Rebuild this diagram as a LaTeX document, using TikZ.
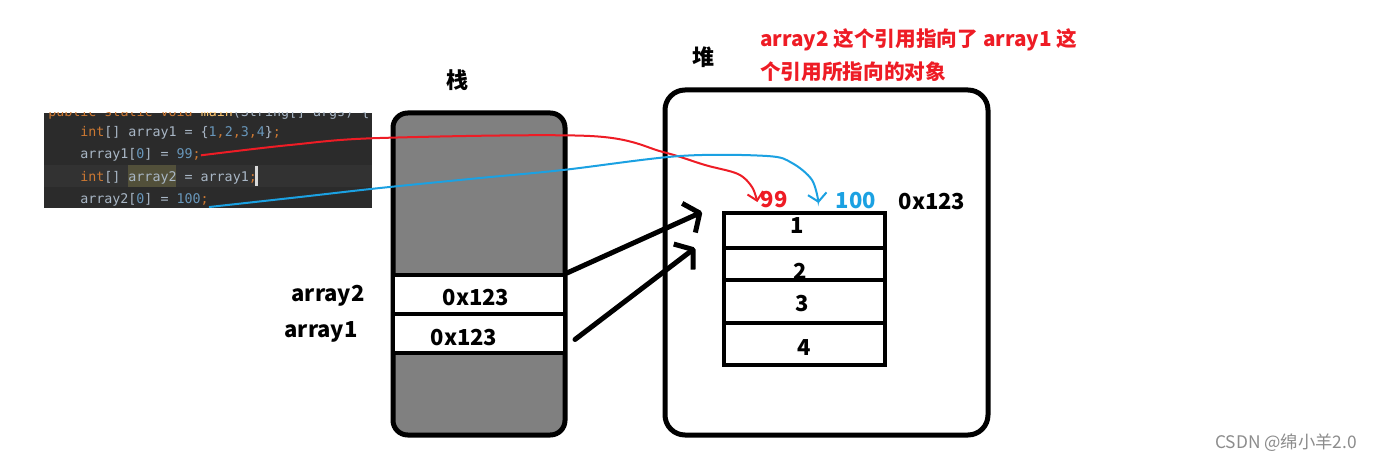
\documentclass[tikz,border=0pt]{standalone}
\usepackage{fontspec}
\setmainfont{Noto Sans CJK SC}
\newfontfamily\codefont{DejaVu Sans Mono}
\usetikzlibrary{arrows.meta,calc,positioning}
\definecolor{ideBg}{HTML}{2B2B2B}
\definecolor{ideRow}{HTML}{323232}
\definecolor{ideHl}{HTML}{52503A}
\definecolor{ideTxt}{HTML}{A9B7C6}
\definecolor{ideKw}{HTML}{CC7832}
\definecolor{ideNum}{HTML}{6897BB}
\definecolor{ideFn}{HTML}{FFC66D}
\definecolor{refRed}{HTML}{EE1C25}
\definecolor{refBlue}{HTML}{1BA1E2}
\definecolor{stackGray}{HTML}{808080}
\newcommand{\kw}[1]{\textcolor{ideKw}{#1}}
\newcommand{\nm}[1]{\textcolor{ideNum}{#1}}
\tikzset{
  codeline/.style={anchor=base west,inner sep=0pt,text=ideTxt,
    font=\codefont\fontsize{10}{12}\selectfont},
  lbl/.style={inner sep=0pt,font=\bfseries\fontsize{16.5}{18}\selectfont},
  slot/.style={draw,line width=3pt,fill=white,minimum width=129pt,
    minimum height=29.25pt,inner sep=0pt},
  cell/.style={draw,line width=3pt,minimum width=120.75pt,inner sep=0pt},
  ptr/.style={line width=3.75pt,line cap=round,line join=round,
    -{Straight Barb[length=9pt,width=24pt,line join=round]}},
}
\begin{document}
\begin{tikzpicture}[x=0.75pt,y=-0.75pt]
\useasboundingbox[fill=white] (0,0) rectangle (1375,463);

% code screenshot
\fill[ideBg] (44,113) rectangle (372,208);
\fill[ideRow] (44,165) rectangle (372,187);
\fill[ideHl] (128,165) rectangle (176,187);
\begin{scope}
  \clip (44,113) rectangle (372,208);
  \node[codeline] (ln0) at (48,117) {\kw{public static void} \textcolor{ideFn}{main}(String[] args) \{};
\end{scope}
\node[codeline] (ln1) at (80,136.5) {\kw{int}[] array1 = \{\nm{1}\kw{,}\nm{2}\kw{,}\nm{3}\kw{,}\nm{4}\}\kw{;}};
\node[codeline] (ln2) at (80,159) {array1[\nm{0}] = \nm{99}\kw{;}};
\node[codeline] (ln3) at (80,181.5) {\kw{int}[] array2 = array1\kw{;}};
\node[codeline] (ln4) at (80,204) {array2[\nm{0}] = \nm{100}\kw{;}};
\fill[white!85!black] (255,166) rectangle (257.5,186);

% stack
\node[lbl] (stackT) at (457,80) {栈};
\node[draw,line width=3.75pt,fill=stackGray,rounded corners=11pt,
  minimum width=129pt,minimum height=241.5pt] (stack) at (479,274) {};
\node[slot] (s2) at (479,294.5) {};
\node[slot] (s1) at (479,333.5) {};
\node[lbl] (s2v) at (476,298) {0x123};
\node[lbl] (s1v) at (464,338) {0x123};
\node[lbl,anchor=base] (n2) at (328,302) {array2};
\node[lbl,anchor=base] (n1) at (321,338) {array1};

% heap
\node[lbl] (heapT) at (703,57) {堆};
\node[draw,line width=3.75pt,fill=white,rounded corners=15pt,
  minimum width=242.25pt,minimum height=258.75pt] (heap) at (826.5,262.5) {};
\node[cell,minimum height=26.25pt] (c1) at (804.5,230.5) {};
\node[cell,minimum height=24pt] (c2) at (804.5,264) {};
\node[cell,minimum height=32.25pt] (c3) at (804.5,301.5) {};
\node[cell,minimum height=31.5pt] (c4) at (804.5,344) {};
\node[lbl] (c1v) at (797,226) {1};
\node[lbl] (c2v) at (800,271) {2};
\node[lbl] (c3v) at (802,304) {3};
\node[lbl] (c4v) at (804,348) {4};
\node[lbl] (addr) at (932,202) {0x123};
\node[lbl,text=refRed] (v99) at (774,200) {99};
\node[lbl,text=refBlue] (v100) at (856,201) {100};

% note
\node[anchor=west,align=left,inner sep=0pt,text=refRed,
  font=\bfseries\fontsize{15.5}{24.75}\selectfont] (note) at (760,55.5)
  {array2 这个引用指向了 array1 这\\个引用所指向的对象};

% pointers
\coordinate (tip1) at (702,212);
\coordinate (tip2) at (695,248);
\draw[ptr] (s2.north east) -- (tip1);
\draw[ptr] ($(s1.east)+(8,6)$) -- (tip2);

% references from the code
\coordinate (tip99) at ($(v99.west)+(-3,2)$);
\coordinate (tip100) at ($(v100.west)+(-17,2)$);
\draw[refRed,line width=1.5pt,-{Straight Barb[length=6pt,width=12pt]}]
  plot[smooth,tension=0.55] coordinates {(ln2.east) (290,145) (380,138) (590,136)
  (663,152) (705,165) (738,174) (752,187) (tip99)};
\draw[refBlue,line width=1.5pt,-{Straight Barb[length=6pt,width=14pt]}]
  plot[smooth,tension=0.55] coordinates {(ln4.south east) (300,197) (380,188) (480,178)
  (563,170) (680,156) (767,156) (792,163) (812,180) (tip100)};

% watermark
\node[text=black!45,font=\fontsize{13}{15}\selectfont] (wm) at (1286,443) {CSDN @绵小羊2.0};
\end{tikzpicture}
\end{document}
